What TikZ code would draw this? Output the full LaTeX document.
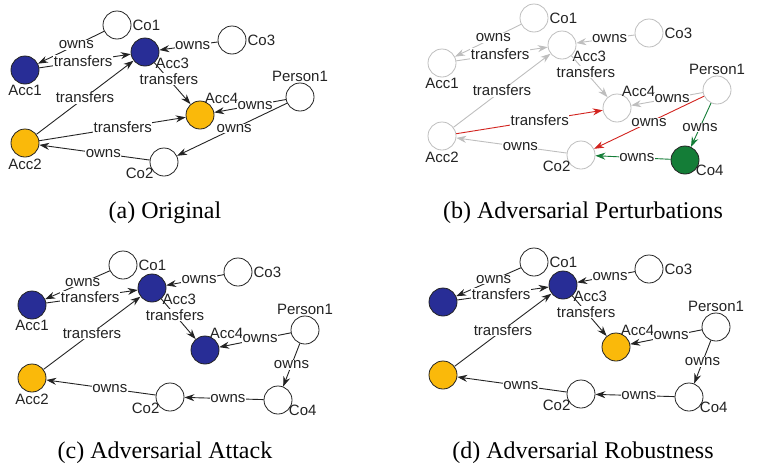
\documentclass[tikz,border=0pt]{standalone}
\usepackage{fontspec}
\setmainfont{Liberation Serif}
\newfontfamily\lsans{Liberation Sans}
\usetikzlibrary{arrows.meta}
\definecolor{nblue}{RGB}{40,45,150}
\definecolor{nyel}{RGB}{250,185,10}
\definecolor{ngreen}{RGB}{20,125,55}
\definecolor{nred}{RGB}{210,35,30}
\definecolor{ngray}{RGB}{190,190,190}
\definecolor{ndark}{RGB}{35,35,35}
\tikzset{
  every label/.style={font=\lsans\fontsize{15}{15}\selectfont,text=ndark,inner sep=1pt},
  nd/.style={circle,draw=ndark,fill=white,minimum size=28pt,inner sep=0pt,line width=0.8pt,
    label distance=0pt},
  gn/.style={nd,draw=ngray},
  bl/.style={fill=nblue},
  ye/.style={fill=nyel},
  gr/.style={fill=ngreen},
  ed/.style={-{Stealth[length=10pt,width=7pt]},draw=ndark,line width=0.9pt},
  ge/.style={ed,draw=ngray},
  re/.style={ed,draw=nred},
  ee/.style={ed,draw=ngreen},
  el/.style={fill=white,inner sep=0.5pt,font=\lsans\fontsize{15}{15}\selectfont,text=ndark},
  capt/.style={font=\fontsize{24}{24}\selectfont}
}
\begin{document}
\begin{tikzpicture}[x=1pt,y=-1pt]
\useasboundingbox (0,0) rectangle (777,469);
% ---------- (a)
\begin{scope}
\node[nd,label=0:Co1] (aco1) at (117,25) {};
\node[nd,label=0:Co3] (aco3) at (232,40) {};
\node[nd,bl,label=-90:Acc1] (aacc1) at (25,70) {};
\node[nd,bl,label={[label distance=-4pt]-25:Acc3}] (aacc3) at (145,52) {};
\node[nd,label=90:Person1] (ap1) at (300,97) {};
\node[nd,ye,label={[label distance=-4pt]70:Acc4}] (aacc4) at (200,115) {};
\node[nd,ye,label=-90:Acc2] (aacc2) at (25,143) {};
\node[nd,label={[label distance=-4pt]205:Co2}] (aco2) at (164,162) {};
\draw[ed] (aco1) -- node[el,pos=.42]{owns} (aacc1);
\draw[ed] (aacc1) -- node[el,pos=.48]{transfers} (aacc3);
\draw[ed] (aco3) -- node[el,pos=.43]{owns} (aacc3);
\draw[ed] (aacc2) -- node[el,pos=.5]{transfers} (aacc3);
\draw[ed] (aacc3) -- node[el,pos=.4]{transfers} (aacc4);
\draw[ed] (aacc2) -- node[el,pos=.57]{transfers} (aacc4);
\draw[ed] (ap1) -- node[el,pos=.43]{owns} (aacc4);
\draw[ed] (ap1) -- node[el,pos=.48]{owns} (aco2);
\draw[ed] (aco2) -- node[el,pos=.42]{owns} (aacc2);
\node[capt] (capa) at (165,213) {(a) Original};
\end{scope}
% ---------- (b)
\begin{scope}[shift={(417,-7)}]
\node[gn,label=0:Co1] (bco1) at (117,25) {};
\node[gn,label=0:Co3] (bco3) at (232,40) {};
\node[gn,label=-90:Acc1] (bacc1) at (25,70) {};
\node[gn,label={[label distance=-4pt]-25:Acc3}] (bacc3) at (145,52) {};
\node[gn,label=90:Person1] (bp1) at (300,97) {};
\node[gn,label={[label distance=-4pt]70:Acc4}] (bacc4) at (200,115) {};
\node[gn,label=-90:Acc2] (bacc2) at (25,143) {};
\node[gn,label={[label distance=-4pt]205:Co2}] (bco2) at (164,162) {};
\node[nd,gr,label={[label distance=-4pt]-20:Co4}] (bco4) at (268,167) {};
\draw[ge] (bco1) -- node[el,pos=.42]{owns} (bacc1);
\draw[ge] (bacc1) -- node[el,pos=.48]{transfers} (bacc3);
\draw[ge] (bco3) -- node[el,pos=.43]{owns} (bacc3);
\draw[ge] (bacc2) -- node[el,pos=.5]{transfers} (bacc3);
\draw[ge] (bacc3) -- node[el,pos=.4]{transfers} (bacc4);
\draw[re] (bacc2) -- node[el,pos=.57]{transfers} (bacc4);
\draw[ge] (bp1) -- node[el,pos=.43]{owns} (bacc4);
\draw[re] (bp1) -- node[el,pos=.5]{owns} (bco2);
\draw[ge] (bco2) -- node[el,pos=.42]{owns} (bacc2);
\draw[ee] (bp1) -- node[el,pos=.55]{owns} (bco4);
\draw[ee] (bco4) -- node[el,pos=.45]{owns} (bco2);
\node[capt] (capb) at (166,220) {(b) Adversarial Perturbations};
\end{scope}
% ---------- (c)
\begin{scope}
\node[nd,label=0:Co1] (cco1) at (123,265) {};
\node[nd,label=0:Co3] (cco3) at (238,272) {};
\node[nd,bl,label=-90:Acc1] (cacc1) at (32,305) {};
\node[nd,bl,label={[label distance=-4pt]-25:Acc3}] (cacc3) at (152,288) {};
\node[nd,label=90:Person1] (cp1) at (305,330) {};
\node[nd,bl,label={[label distance=-4pt]70:Acc4}] (cacc4) at (205,350) {};
\node[nd,ye,label=-90:Acc2] (cacc2) at (32,378) {};
\node[nd,label={[label distance=-4pt]205:Co2}] (cco2) at (170,397) {};
\node[nd,label={[label distance=-4pt]-20:Co4}] (cco4) at (278,400) {};
\draw[ed] (cco1) -- node[el,pos=.42]{owns} (cacc1);
\draw[ed] (cacc1) -- node[el,pos=.48]{transfers} (cacc3);
\draw[ed] (cco3) -- node[el,pos=.43]{owns} (cacc3);
\draw[ed] (cacc2) -- node[el,pos=.5]{transfers} (cacc3);
\draw[ed] (cacc3) -- node[el,pos=.4]{transfers} (cacc4);
\draw[ed] (cp1) -- node[el,pos=.43]{owns} (cacc4);
\draw[ed] (cp1) -- node[el,pos=.5]{owns} (cco4);
\draw[ed] (cco4) -- node[el,pos=.45]{owns} (cco2);
\draw[ed] (cco2) -- node[el,pos=.42]{owns} (cacc2);
\node[capt] (capc) at (165,453) {(c) Adversarial Attack};
\end{scope}
% ---------- (d)
\begin{scope}[shift={(411,-3)}]
\node[nd,label=0:Co1] (dco1) at (123,265) {};
\node[nd,label=0:Co3] (dco3) at (238,272) {};
\node[nd,bl] (dacc1) at (32,305) {};
\node[nd,bl,label={[label distance=-4pt]-25:Acc3}] (dacc3) at (152,288) {};
\node[nd,label=90:Person1] (dp1) at (305,330) {};
\node[nd,ye,label={[label distance=-4pt]70:Acc4}] (dacc4) at (205,350) {};
\node[nd,ye] (dacc2) at (32,378) {};
\node[nd,label={[label distance=-4pt]205:Co2}] (dco2) at (170,397) {};
\node[nd,label={[label distance=-4pt]-20:Co4}] (dco4) at (278,400) {};
\draw[ed] (dco1) -- node[el,pos=.42]{owns} (dacc1);
\draw[ed] (dacc1) -- node[el,pos=.48]{transfers} (dacc3);
\draw[ed] (dco3) -- node[el,pos=.43]{owns} (dacc3);
\draw[ed] (dacc2) -- node[el,pos=.5]{transfers} (dacc3);
\draw[ed] (dacc3) -- node[el,pos=.4]{transfers} (dacc4);
\draw[ed] (dp1) -- node[el,pos=.43]{owns} (dacc4);
\draw[ed] (dp1) -- node[el,pos=.5]{owns} (dco4);
\draw[ed] (dco4) -- node[el,pos=.45]{owns} (dco2);
\draw[ed] (dco2) -- node[el,pos=.42]{owns} (dacc2);
\node[capt] (capd) at (172,456) {(d) Adversarial Robustness};
\end{scope}
\end{tikzpicture}
\end{document}
